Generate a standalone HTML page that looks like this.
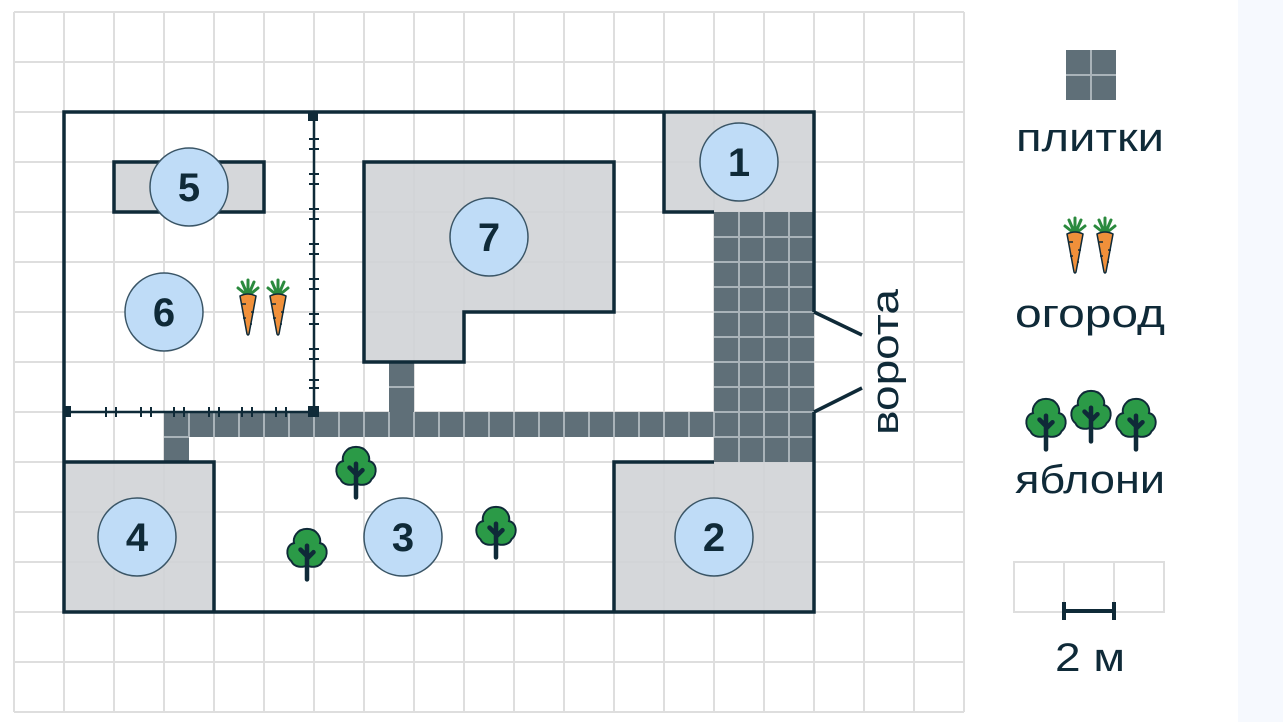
<!DOCTYPE html>
<html><head><meta charset="utf-8"><style>
html,body{margin:0;padding:0;background:#fff;}
svg{display:block;}
text{font-family:"Liberation Sans","DejaVu Sans",sans-serif;}
</style></head><body>
<svg width="1283" height="722" viewBox="0 0 1283 722" xmlns="http://www.w3.org/2000/svg">
<defs>
<symbol id="tree" viewBox="-20 -24 40 44" overflow="visible">
<path d="M0,-21 C8,-21 11,-14 10,-10 C16,-9 17,0 12,4 C10,9 3,9 0,7 C-3,9 -10,9 -12,4 C-17,0 -16,-9 -10,-10 C-11,-14 -8,-21 0,-21Z" fill="#2b9a47" stroke="#0f2a38" stroke-width="1.5"/>
<path d="M0,-8 V18 M0,0 L-5,-5 M0,2 L5,-3" stroke="#0f2a38" stroke-width="3.5" fill="none" stroke-linecap="round"/>
</symbol>
<symbol id="carrot" viewBox="-12 -28 24 56" overflow="visible">
<path d="M0,-12 L-6,-26 M0,-12 L0,-28 M0,-12 L6,-26 M0,-12 L-10,-20 M0,-12 L10,-20" stroke="#2b8a3e" stroke-width="3" stroke-linecap="round"/>
<path d="M-8,-12 Q0,-16 8,-12 L1,26 Q0,28 -1,26 Z" fill="#f0903a" stroke="#0f2a38" stroke-width="1.5"/>
<path d="M-6,-4 h4 M3,4 h3 M-5,10 h3 M2,16 h2" stroke="#0f2a38" stroke-width="1.5"/>
</symbol>
</defs>
<rect x="1238" y="0" width="45" height="722" fill="#f6f9fe"/>
<g stroke="#dedede" stroke-width="2">
<path d="M14,12V712M64,12V712M114,12V712M164,12V712M214,12V712M264,12V712M314,12V712M364,12V712M414,12V712M464,12V712M514,12V712M564,12V712M614,12V712M664,12V712M714,12V712M764,12V712M814,12V712M864,12V712M914,12V712M964,12V712"/>
<path d="M14,12H964M14,62H964M14,112H964M14,162H964M14,212H964M14,262H964M14,312H964M14,362H964M14,412H964M14,462H964M14,512H964M14,562H964M14,612H964M14,662H964M14,712H964"/>
</g>
<g fill="#d0d3d6" fill-opacity="0.9">
<rect x="664" y="112" width="150" height="100"/>
<rect x="614" y="462" width="200" height="150"/>
<rect x="64" y="462" width="150" height="150"/>
<rect x="114" y="162" width="150" height="50"/>
<path d="M364,162H614V312H464V362H364Z"/>
</g>
<g fill="#5f6f78">
<rect x="714" y="212" width="100" height="250"/>
<rect x="164" y="412" width="550" height="25"/>
<rect x="164" y="437" width="25" height="25"/>
<rect x="389" y="362" width="25" height="50"/>
</g>
<g stroke="#a9b3b9" stroke-width="2">
<path d="M739,212V462M764,212V462M789,212V462"/>
<path d="M714,237H814M714,262H814M714,287H814M714,312H814M714,337H814M714,362H814M714,387H814M714,412H814M714,437H814"/>
<path d="M189,412V437M214,412V437M239,412V437M264,412V437M289,412V437M314,412V437M339,412V437M364,412V437M389,412V437M414,412V437M439,412V437M464,412V437M489,412V437M514,412V437M539,412V437M564,412V437M589,412V437M614,412V437M639,412V437M664,412V437M689,412V437M714,412V437"/>
<path d="M164,437H189M389,387H414"/>
</g>
<g fill="none" stroke="#0f2a38" stroke-width="3.5">
<path d="M814,312V112H64V612H814V412"/>
<path d="M664,112V212H714"/>
<path d="M614,612V462H714"/>
<path d="M64,462H214V612"/>
<rect x="114" y="162" width="150" height="50"/>
<path d="M364,162H614V312H464V362H364Z"/>
<path d="M814,312L862,335M814,412L862,388"/>
</g>
<g stroke="#0f2a38" fill="none">
<path d="M314,112V412H64" stroke-width="2.5"/>
<path d="M309,139h10M309,149h10M309,174h10M309,184h10M309,209h10M309,219h10M309,244h10M309,254h10M309,279h10M309,289h10M309,314h10M309,324h10M309,349h10M309,359h10M309,380h10M309,388h10" stroke-width="2"/>
<path d="M106,407v10M116,407v10M141,407v10M151,407v10M174,407v10M184,407v10M209,407v10M219,407v10M242,407v10M252,407v10M276,407v10M286,407v10" stroke-width="2"/>
</g>
<rect x="308" y="113" width="10" height="8" fill="#0f2a38"/>
<rect x="308" y="406" width="11" height="11" fill="#0f2a38"/>
<rect x="63" y="406" width="8" height="11" fill="#0f2a38"/>
<g fill="#bfdcf7" stroke="#3a5566" stroke-width="1.5">
<circle cx="739" cy="162" r="39"/>
<circle cx="714" cy="537" r="39"/>
<circle cx="403" cy="537" r="39"/>
<circle cx="137" cy="537" r="39"/>
<circle cx="189" cy="187" r="39"/>
<circle cx="164" cy="312" r="39"/>
<circle cx="489" cy="237" r="39"/>
</g>
<g font-size="40" font-weight="bold" fill="#0f2a38" text-anchor="middle">
<text x="739" y="176">1</text>
<text x="714" y="551">2</text>
<text x="403" y="551">3</text>
<text x="137" y="551">4</text>
<text x="189" y="201">5</text>
<text x="164" y="326">6</text>
<text x="489" y="251">7</text>
</g>
<use href="#carrot" x="236" y="280" width="24" height="56"/>
<use href="#carrot" x="266" y="280" width="24" height="56"/>
<use href="#tree" x="330" y="443" width="52" height="57"/>
<use href="#tree" x="281" y="525" width="52" height="57"/>
<use href="#tree" x="470" y="503" width="52" height="57"/>
<text x="900" y="362" font-size="38" fill="#0f2a38" text-anchor="middle" textLength="146" lengthAdjust="spacingAndGlyphs" transform="rotate(-90 900 362)" dy="-2">ворота</text>
<rect x="1066" y="50" width="50" height="50" fill="#5f6f78"/>
<path d="M1091,50V100M1066,75H1116" stroke="#a9b3b9" stroke-width="2"/>
<g font-size="40" fill="#0f2a38" text-anchor="middle">
<text x="1090" y="151" textLength="148" lengthAdjust="spacingAndGlyphs">плитки</text>
<text x="1090" y="327" textLength="150" lengthAdjust="spacingAndGlyphs">огород</text>
<text x="1090" y="493" textLength="150" lengthAdjust="spacingAndGlyphs">яблони</text>
<text x="1090" y="671" textLength="70" lengthAdjust="spacingAndGlyphs">2 м</text>
</g>
<use href="#carrot" x="1063" y="218" width="24" height="56"/>
<use href="#carrot" x="1093" y="218" width="24" height="56"/>
<use href="#tree" x="1020" y="395" width="52" height="57"/>
<use href="#tree" x="1065" y="387" width="52" height="57"/>
<use href="#tree" x="1110" y="395" width="52" height="57"/>
<g stroke="#dedede" stroke-width="2" fill="none">
<rect x="1014" y="562" width="150" height="50"/>
<path d="M1064,562V612M1114,562V612"/>
</g>
<path d="M1064,602V620M1114,602V620M1064,611H1114" stroke="#0f2a38" stroke-width="4"/>
</svg>
</body></html>
